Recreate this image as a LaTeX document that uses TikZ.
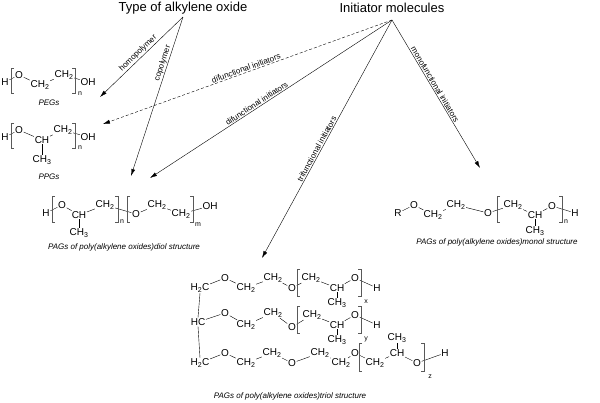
\documentclass[tikz,border=0pt]{standalone}
\usepackage{fontspec}
\setmainfont{Liberation Sans}
\usetikzlibrary{positioning}
\usetikzlibrary{arrows.meta}

\newcommand{\tw}{CH\textsubscript{2}}
\newcommand{\me}{CH\textsubscript{3}}

\begin{document}
\begin{tikzpicture}[x=1pt,y=-1pt,
  atom/.style = {inner sep=0.6pt, font=\fontsize{10}{10}\selectfont},
  sub/.style = {inner sep=0pt, font=\fontsize{7}{7}\selectfont},
  title/.style = {font=\fontsize{13}{13}\selectfont},
  pag/.style = {font=\fontsize{8}{8}\selectfont\itshape},
  route/.style = {-{Latex[length=7pt,width=4pt]}, thin},
  tag/.style = {font=\fontsize{8}{8}\selectfont, sloped, above, inner sep=1pt},
  bond/.style = {thin},
  brk/.style = {very thin, gray!70!black}]
\useasboundingbox (0,0) rectangle (600,402);

\node[title] (T) at (183,8) {Type of alkylene oxide};
\node[title] (I) at (392,8) {Initiator molecules};
\coordinate (t) at (183,17);
\coordinate (i) at (392,20);

% PEG
\foreach \n/\x/\y/\t in {a/5/82/H, b/19/75/O, c/40/85/\tw, d/64/75/\tw, e/88/82/OH}
  \node[atom] (peg\n) at (\x,\y) {\t};
\foreach \a/\b in {a/b, b/c, c/d, d/e} \draw[bond] (peg\a) -- (peg\b);
\draw[brk] (14,68) -- (11,68) -- (11,93) -- (14,93);
\draw[brk] (72,68) -- (75,68) -- (75,93) -- (72,93);
\node[sub] (pegn) at (80,94) {n};
\node[pag] (PEG) at (49,103) {PEGs};

% PPG
\foreach \n/\x/\y/\t in {a/5/137/H, b/19/130/O, c/42/140/CH, d/63/130/\tw, e/88/137/OH, f/42/160/\me}
  \node[atom] (ppg\n) at (\x,\y) {\t};
\foreach \a/\b in {a/b, b/c, c/d, d/e, c/f} \draw[bond] (ppg\a) -- (ppg\b);
\draw[brk] (14,123) -- (11,123) -- (11,148) -- (14,148);
\draw[brk] (72,123) -- (75,123) -- (75,148) -- (72,148);
\node[sub] (ppgn) at (80,148) {n};
\node[pag] (PPG) at (49,177) {PPGs};

% diol
\foreach \n/\x/\y/\t in {a/46/213/H, b/62/205/O, c/79/215/CH, d/105/205/\tw, e/136/214/O, f/157/205/\tw, g/181/214/\tw, h/210/206/OH, i/79/233/\me}
  \node[atom] (dio\n) at (\x,\y) {\t};
\foreach \a/\b in {a/b, b/c, c/d, d/e, e/f, f/g, g/h, c/i} \draw[bond] (dio\a) -- (dio\b);
\draw[brk] (55,196) -- (52,196) -- (52,222) -- (55,222);
\draw[brk] (115,196) -- (118,196) -- (118,222) -- (115,222);
\draw[brk] (130,196) -- (127,196) -- (127,222) -- (130,222);
\draw[brk] (190,196) -- (193,196) -- (193,222) -- (190,222);
\node[sub] (dion) at (122,222) {n};
\node[sub] (diom) at (198,225) {m};
\node[pag] (DIO) at (124,247) {PAGs of poly(alkylene oxides)diol structure};

% monol
\foreach \n/\x/\y/\t in {a/398/213/R, b/414/205/O, c/433/215/\tw, d/456/205/\tw, e/488/213/O, f/513/205/\tw, g/535/215/CH, h/552/206/O, i/575/213/H, j/535/231/\me}
  \node[atom] (mon\n) at (\x,\y) {\t};
\foreach \a/\b in {a/b, b/c, c/d, d/e, e/f, f/g, g/h, h/i, g/j} \draw[bond] (mon\a) -- (mon\b);
\draw[brk] (500,196) -- (497,196) -- (497,222) -- (500,222);
\draw[brk] (559,196) -- (562,196) -- (562,222) -- (559,222);
\node[sub] (monn) at (566,222) {n};
\node[pag] (MON) at (497,242) {PAGs of poly(alkylene oxides)monol structure};

% triol
\foreach \n/\x/\y/\t in {a/200/288/H\textsubscript{2}C, b/225/278/O, c/246/288/\tw, d/273/278/\tw, e/292/288/O, f/311/278/\tw, g/337/288/CH, h/355/278/O, i/377/288/H, j/337/303/\me}
  \node[atom] (tra\n) at (\x,\y) {\t};
\foreach \a/\b in {a/b, b/c, c/d, d/e, e/f, f/g, g/h, h/i, g/j} \draw[bond] (tra\a) -- (tra\b);
\foreach \n/\x/\y/\t in {a/198/322/HC, b/225/313/O, c/246/325/\tw, d/273/313/\tw, e/292/327/O, f/312/315/\tw, g/337/325/CH, h/355/315/O, i/377/325/H, j/337/340/\me}
  \node[atom] (trb\n) at (\x,\y) {\t};
\foreach \a/\b in {a/b, b/c, c/d, d/e, e/f, f/g, g/h, h/i, g/j} \draw[bond] (trb\a) -- (trb\b);
\foreach \n/\x/\y/\t in {a/200/363/H\textsubscript{2}C, b/225/353/O, c/246/363/\tw, d/272/353/\tw, e/292/363/O, f/320/353/\tw, g/341/363/\tw, h/355/353/O, k/375/363/\tw, l/397/353/CH, m/417/363/O, i/445/353/H, j/397/338/\me}
  \node[atom] (trc\n) at (\x,\y) {\t};
\foreach \a/\b in {a/b, b/c, c/d, d/e, e/f, f/g, g/h, h/k, k/l, l/m, m/i, l/j} \draw[bond] (trc\a) -- (trc\b);
\draw[bond] (traa.south) -- (trba.north);
\draw[bond] (trba.south) -- (trca.north);
\draw[brk] (300,269) -- (297,269) -- (297,296) -- (300,296);
\draw[brk] (358,269) -- (361,269) -- (361,296) -- (358,296);
\draw[brk] (300,306) -- (297,306) -- (297,333) -- (300,333);
\draw[brk] (358,306) -- (361,306) -- (361,333) -- (358,333);
\draw[brk] (362,343) -- (359,343) -- (359,371) -- (362,371);
\draw[brk] (421,343) -- (424,343) -- (424,371) -- (421,371);
\node[sub] (trx) at (366,302) {x};
\node[sub] (try) at (366,339) {y};
\node[sub] (trz) at (430,377) {z};
\node[pag] (TRI) at (290,396) {PAGs of poly(alkylene oxides)triol structure};

% routes
\draw[route] (t) -- node[tag, pos=0.5] {homopolymer} (100,97);
\draw[route] (t) -- node[tag, pos=0.3] {copolymer} (131,176);
\draw[route, densely dashed] (i) -- node[tag, pos=0.5] {difunctional initiators} (103,124);
\draw[route] (i) -- node[tag, pos=0.55] {difunctional initiators} (150,178);
\draw[route] (i) -- node[tag, pos=0.55] {trifunctional initiators} (262,258);
\draw[route] (i) -- node[tag, pos=0.45] {monofunctional initiators} (480,168);
\end{tikzpicture}
\end{document}
